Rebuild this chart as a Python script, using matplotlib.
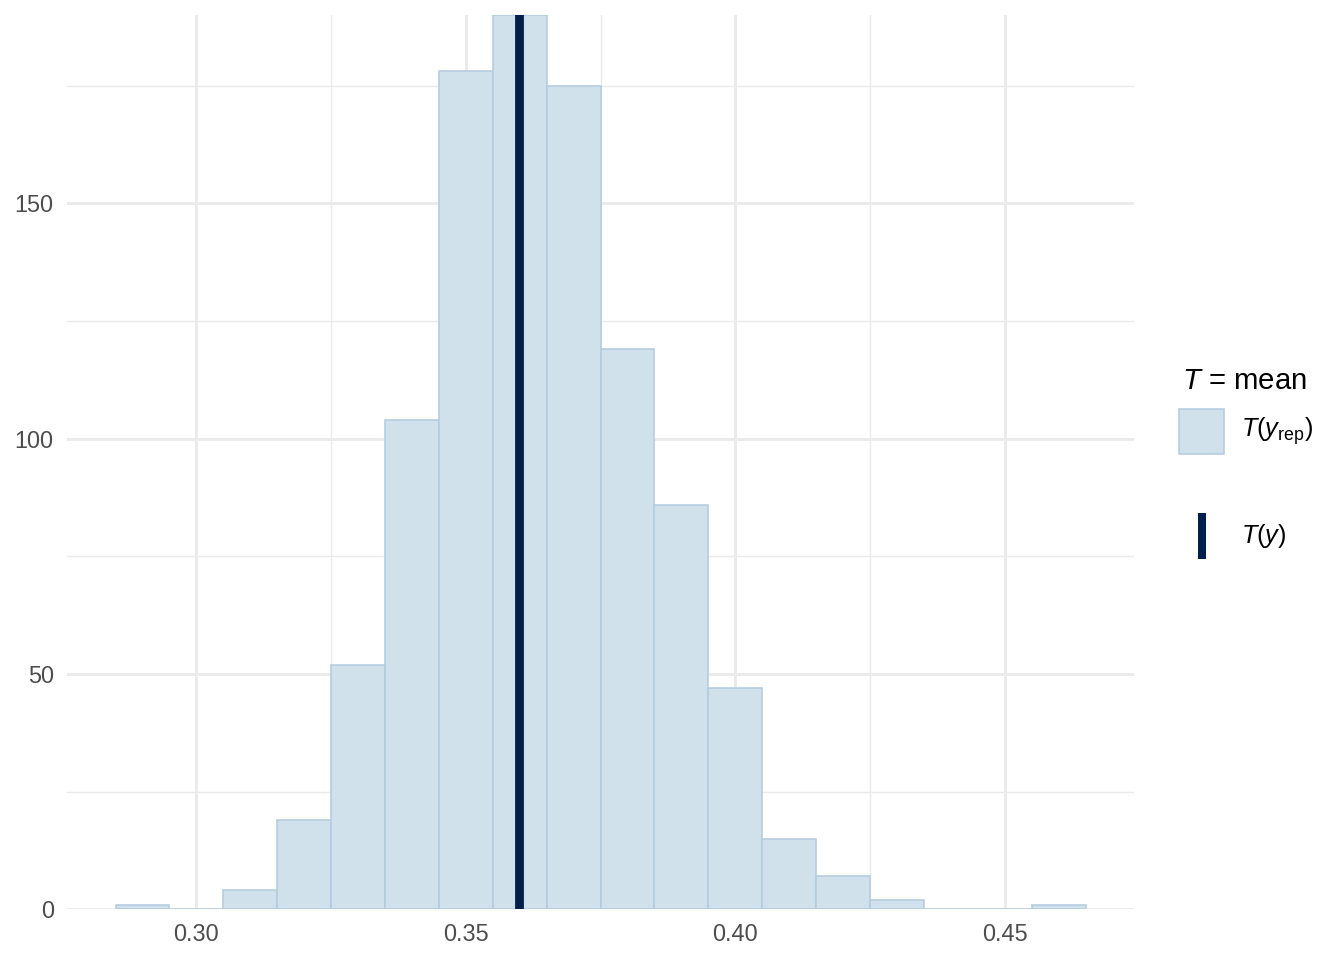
import matplotlib
matplotlib.use("Agg")
import matplotlib.pyplot as plt
from matplotlib.patches import Rectangle

plt.rcParams['font.family'] = ['Liberation Sans', 'DejaVu Sans']
plt.rcParams['mathtext.fontset'] = 'custom'
plt.rcParams['mathtext.rm'] = 'Liberation Sans'
plt.rcParams['mathtext.it'] = 'Liberation Sans:italic'

# histogram of T(y_rep), binwidth 0.01
bin_centers = [0.29, 0.30, 0.31, 0.32, 0.33, 0.34, 0.35, 0.36, 0.37,
               0.38, 0.39, 0.40, 0.41, 0.42, 0.43, 0.44, 0.45, 0.46]
counts = [1, 0, 4, 19, 52, 104, 178, 190, 175, 119, 86, 47, 15, 7, 2, 0, 0, 1]
t_obs = 0.3598

x_ticks = [0.30, 0.35, 0.40, 0.45]
x_tick_labels = ["0.30", "0.35", "0.40", "0.45"]
y_ticks = [0, 50, 100, 150]

fill_col = "#d1e1ec"
edge_col = "#b3cde0"
line_col = "#011f4b"
grid_col = "#ebebeb"

W, H = 1344, 960
fig = plt.figure(figsize=(7, 5), dpi=192)

def fx(px):
    return px / W

def fy(py):
    return 1 - py / H

ax = fig.add_axes([fx(67), fy(909.3), fx(1134) - fx(67), fy(15) - fy(909.3)])

ax.bar(bin_centers, counts, width=0.01, color=fill_col, edgecolor=edge_col,
       linewidth=0.6, zorder=2)
ax.axvline(t_obs, color=line_col, linewidth=3.3, zorder=3)

binw = 0.01
lo = min(bin_centers) - binw / 2
hi = max(bin_centers) + binw / 2
pad = (hi - lo) * 0.05
ax.set_xlim(lo - pad, hi + pad)
ax.set_ylim(0, max(counts))

ax.set_xticks(x_ticks)
ax.set_xticklabels(x_tick_labels)
ax.set_yticks(y_ticks)
ax.set_xticks([0.325, 0.375, 0.425], minor=True)
ax.set_yticks([25, 75, 125, 175], minor=True)

ax.grid(which='major', color=grid_col, linewidth=1.1, zorder=0)
ax.grid(which='minor', color=grid_col, linewidth=0.55, zorder=0)
ax.set_axisbelow(True)
for s in ax.spines.values():
    s.set_visible(False)
ax.tick_params(which='both', length=0, labelsize=8.8, labelcolor="#4d4d4d")
ax.tick_params(axis='x', pad=5)
ax.tick_params(axis='y', pad=5)

# legend drawn by hand
fig.text(fx(1182), fy(381), r"$T$ = mean", fontsize=11, va='center', ha='left')
fig.add_artist(Rectangle((fx(1179), fy(454)), fx(45), fy(409) - fy(454),
                         transform=fig.transFigure, facecolor=fill_col,
                         edgecolor=edge_col, linewidth=0.6))
fig.text(fx(1241), fy(431), r"$T\mathrm{(}y_{\mathrm{rep}}\mathrm{)}$", fontsize=9.5,
         va='center', ha='left')
fig.add_artist(Rectangle((fx(1197.5), fy(559)), fx(8.7), fy(513) - fy(559),
                         transform=fig.transFigure, facecolor=line_col,
                         edgecolor='none'))
fig.text(fx(1241), fy(536), r"$T\mathrm{(}y\mathrm{)}$", fontsize=9.5,
         va='center', ha='left')

fig.savefig("out.png", dpi=192)
